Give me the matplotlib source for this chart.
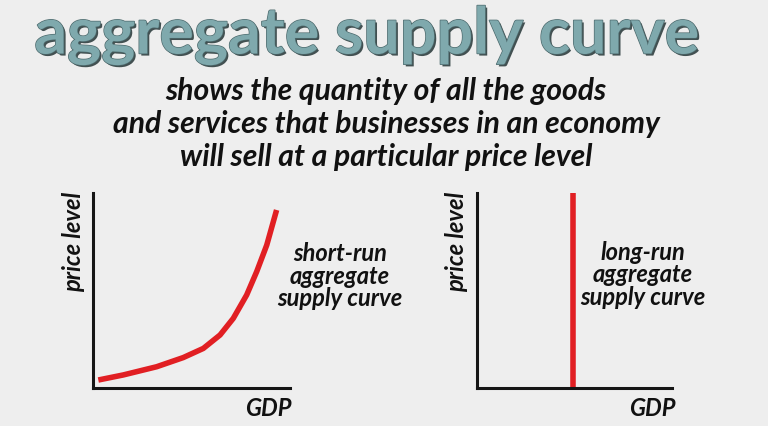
import matplotlib
matplotlib.use('Agg')
import matplotlib.pyplot as plt
import matplotlib.patheffects as pe

W, H = 768, 426

#curve data (axes units 0-100)
sras_gdp = [2.7, 15.4, 32.3, 45.8, 56.0, 64.5, 71.2, 78.0, 83.1, 88.2, 93.2]
sras_price = [4.1, 6.7, 10.9, 15.6, 20.3, 27.2, 35.7, 47.7, 59.7, 73.3, 91.3]
lras_gdp = [49, 49]
lras_price = [0, 100]

title = 'aggregate supply curve'
subtitle = ['shows the quantity of all the goods',
            'and services that businesses in an economy',
            'will sell at a particular price level']
sras_label = 'short-run\naggregate\nsupply curve'
lras_label = 'long-run\naggregate\nsupply curve'

red = '#e11f23'

fig = plt.figure(figsize=(W / 100, H / 100), dpi=100)
fig.patch.set_facecolor('#eeeeee')

def fx(px):
    return px / W

def fy(py):
    return 1 - py / H

#title with dark drop shadow
fig.text(fx(367), fy(36), title, ha='center', va='center', fontsize=46.5,
         fontweight='bold', color='#7fa9ad', family=['Lato', 'DejaVu Sans'],
         path_effects=[pe.withSimplePatchShadow(offset=(1.5, -1.5), shadow_rgbFace='#2f3f40', alpha=0.9),
                       pe.withStroke(linewidth=1, foreground='#4d6a6d')])

for i, line in enumerate(subtitle):
    fig.text(fx(386), fy(91 + i * 33), line, ha='center', va='center', fontsize=21.7,
             fontweight='bold', fontstyle='italic', color='#111111', family=['Lato', 'DejaVu Sans'])

def panel(left, right, top, bottom):
    ax = fig.add_axes([fx(left), fy(bottom), fx(right - left), (bottom - top) / H])
    ax.set_xlim(0, 100)
    ax.set_ylim(0, 100)
    ax.patch.set_alpha(0)
    for s in ['top', 'right']:
        ax.spines[s].set_visible(False)
    for s in ['left', 'bottom']:
        ax.spines[s].set_linewidth(2.2)
        ax.spines[s].set_color('#151515')
    ax.set_xticks([])
    ax.set_yticks([])
    return ax

ax1 = panel(93, 290, 193, 388)
ax1.plot(sras_gdp, sras_price, color=red, lw=4, solid_capstyle='butt',
         solid_joinstyle='round', clip_on=False)
ax2 = panel(477, 672, 193, 388)
ax2.plot(lras_gdp, lras_price, color=red, lw=4, solid_capstyle='butt', clip_on=False)

lab = dict(fontsize=17, fontweight='bold', fontstyle='italic', color='#111111', family=['Lato', 'DejaVu Sans'])
fig.text(fx(340), fy(276), sras_label, ha='center', va='center', linespacing=0.95, **lab)
fig.text(fx(643), fy(275), lras_label, ha='center', va='center', linespacing=0.95, **lab)
fig.text(fx(268), fy(408), 'GDP', ha='center', va='center', **lab)
fig.text(fx(652), fy(408), 'GDP', ha='center', va='center', **lab)
fig.text(fx(74), fy(242), 'price level', ha='center', va='center', rotation=90, **lab)
fig.text(fx(457), fy(242), 'price level', ha='center', va='center', rotation=90, **lab)

fig.savefig('out.png', dpi=100, facecolor=fig.get_facecolor())
